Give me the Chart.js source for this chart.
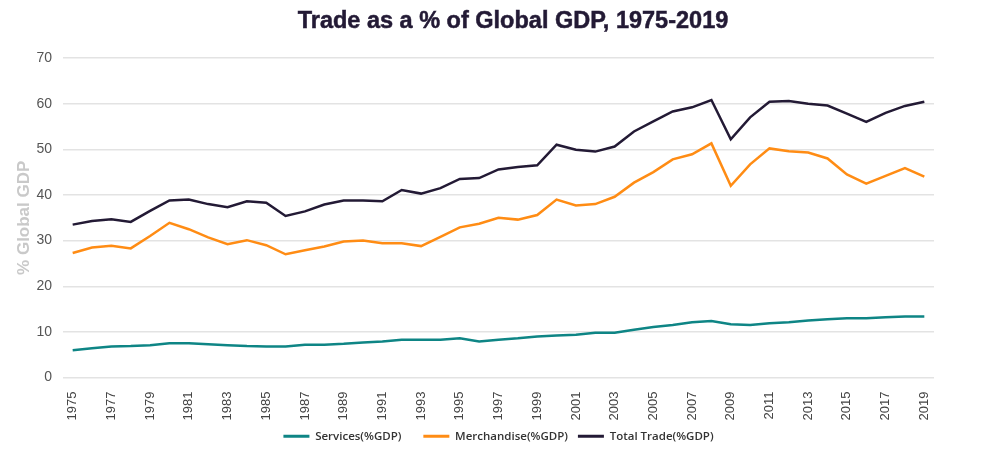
<!DOCTYPE html>
<html>
<head>
<meta charset="utf-8">
<script src="https://cdn.jsdelivr.net/npm/chart.js@4"></script>
<style>
  html, body { margin: 0; padding: 0; background: #fff; }
  #wrap { position: relative; width: 986px; height: 474px; }
  #title {
    position: absolute; left: 0; top: 6px; width: 1026px; text-align: center;
    font-family: 'Liberation Sans', Arial, sans-serif; font-weight: bold; font-size: 23.5px;
    color: #231a35; -webkit-text-stroke: 0.5px #231a35; line-height: 28px;
  }
</style>
</head>
<body>
<div id="wrap">
  <div id="title">Trade as a % of Global GDP, 1975-2019</div>
  <canvas id="chart" width="986" height="474"></canvas>
</div>
<script>
// years on the x axis
const years = [];
for (let y = 1975; y <= 2019; y++) years.push(String(y));

// % of global GDP
const services = [6.0, 6.4, 6.8, 6.9, 7.1, 7.5, 7.5, 7.3, 7.1, 6.9,
  6.8, 6.8, 7.2, 7.2, 7.4, 7.7, 7.9, 8.3, 8.3, 8.3,
  8.6, 7.9, 8.3, 8.6, 9.0, 9.2, 9.4, 9.8, 9.8, 10.5,
  11.1, 11.5, 12.1, 12.4, 11.7, 11.5, 11.9, 12.1, 12.5, 12.8,
  13.0, 13.0, 13.2, 13.4, 13.4];
const merchandise = [27.3, 28.5, 28.9, 28.3, 31.0, 33.9, 32.5, 30.7, 29.2, 30.1,
  29.0, 27.0, 27.9, 28.7, 29.8, 30.0, 29.4, 29.4, 28.8, 30.8,
  32.9, 33.7, 35.0, 34.6, 35.6, 39.0, 37.7, 38.0, 39.6, 42.7,
  45.0, 47.8, 48.9, 51.3, 42.0, 46.7, 50.2, 49.6, 49.3, 48.0,
  44.5, 42.5, 44.2, 45.9, 44.0];
const totalTrade = [33.5, 34.3, 34.7, 34.1, 36.5, 38.8, 39.0, 38.0, 37.3, 38.6,
  38.3, 35.4, 36.4, 37.9, 38.8, 38.8, 38.6, 41.1, 40.3, 41.5,
  43.5, 43.7, 45.6, 46.1, 46.5, 51.0, 49.9, 49.5, 50.6, 53.9,
  56.1, 58.3, 59.2, 60.8, 52.2, 57.0, 60.4, 60.6, 60.0, 59.6,
  57.8, 56.0, 58.0, 59.5, 60.4];

const yTicks = [0, 10, 20, 30, 40, 50, 60, 70];

// trailing gap after the first two legend entries
const legendGap = ['      ', '  ', ''];

const ctx = document.getElementById('chart').getContext('2d');
new Chart(ctx, {
  type: 'line',
  data: {
    labels: years,
    datasets: [
      { label: 'Services(%GDP)', data: services, borderColor: '#0e8585', backgroundColor: '#0e8585' },
      { label: 'Merchandise(%GDP)', data: merchandise, borderColor: '#ff8c14', backgroundColor: '#ff8c14' },
      { label: 'Total Trade(%GDP)', data: totalTrade, borderColor: '#231a35', backgroundColor: '#231a35' }
    ]
  },
  options: {
    responsive: false,
    animation: false,
    elements: {
      line: { borderWidth: 2.5, tension: 0 },
      point: { radius: 0 }
    },
    layout: { padding: { left: 6, right: 52, top: 58, bottom: 22 } },
    plugins: {
      title: { display: false },
      legend: {
        position: 'bottom',
        fullSize: false,
        labels: {
          usePointStyle: true,
          pointStyle: 'line',
          pointStyleWidth: 26,
          padding: 4,
          color: '#333',
          font: { family: 'Open Sans', size: 11.5, weight: '600' },
          generateLabels: function (chart) {
            const items = Chart.defaults.plugins.legend.labels.generateLabels(chart);
            items.forEach((it, i) => { it.text = it.text + legendGap[i]; it.lineWidth = 3; });
            return items;
          }
        }
      },
      tooltip: { enabled: false }
    },
    scales: {
      x: {
        offset: true,
        grid: { display: false },
        border: { display: false },
        ticks: {
          autoSkip: false,
          maxRotation: 90,
          minRotation: 90,
          padding: 6,
          color: '#444',
          font: { family: 'Liberation Sans', size: 13 },
          callback: function (val, i) { return i % 2 === 0 ? years[i] : ''; }
        }
      },
      y: {
        min: 0,
        max: 70,
        afterBuildTicks: function (axis) { axis.ticks = yTicks.map(v => ({ value: v })); },
        afterFit: function (axis) { axis.width = 57; },
        grid: { color: '#e3e3e3', lineWidth: 1.5, drawTicks: false },
        border: { display: false },
        ticks: {
          color: '#555',
          padding: 11,
          font: { family: 'Liberation Sans', size: 14 }
        },
        title: {
          display: true,
          text: '% Global GDP',
          color: '#c9c9c9',
          font: { family: 'Liberation Sans', size: 17, weight: 'bold' },
          padding: { top: 8, bottom: 0 }
        }
      }
    }
  }
});
</script>
</body>
</html>
